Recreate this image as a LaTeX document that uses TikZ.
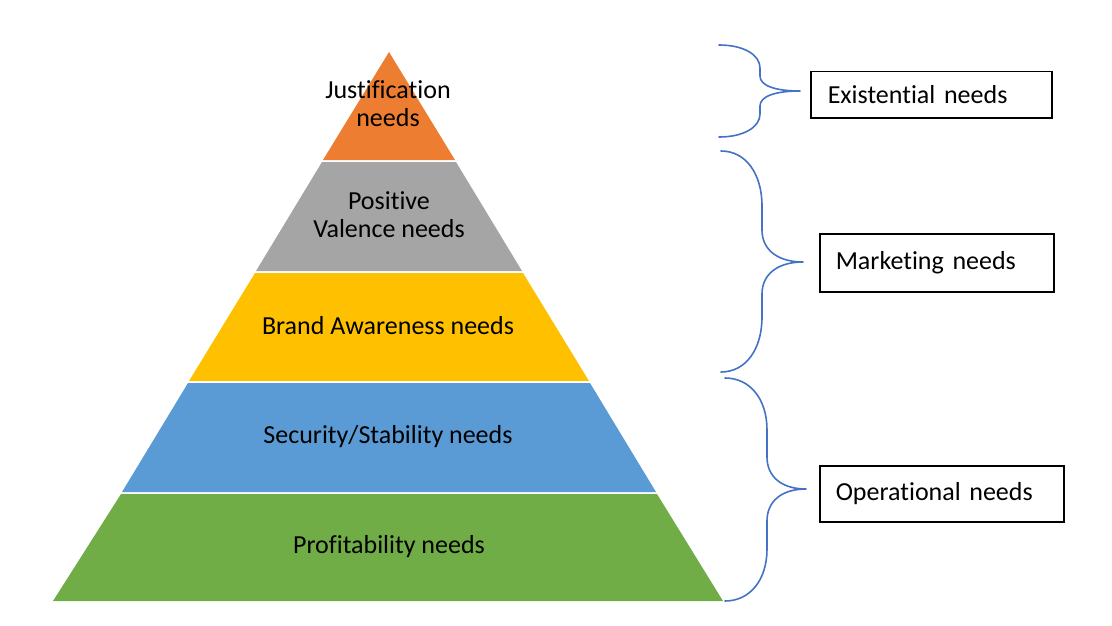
\documentclass[tikz,border=0pt]{standalone}
\usepackage{fontspec}
\setmainfont{Carlito}[Ligatures=CommonOff]
\definecolor{cOrange}{HTML}{ED7D31}
\definecolor{cGray}{HTML}{A5A5A5}
\definecolor{cYellow}{HTML}{FFC000}
\definecolor{cBlue}{HTML}{5B9BD5}
\definecolor{cGreen}{HTML}{70AD47}
\definecolor{cBrace}{HTML}{4472C4}
\begin{document}
\begin{tikzpicture}[x=1pt,y=-1pt,
  layertext/.style={font=\fontsize{26}{28}\selectfont, align=center, inner sep=0pt},
  needbox/.style={draw=black, line width=1.5pt, anchor=north west, align=left,
    font=\fontsize{26}{28}\selectfont, inner xsep=16pt, inner ysep=0pt},
  bracestyle/.style={draw=cBrace, line width=1.6pt, line cap=round, line join=round}]
\useasboundingbox (0,0) rectangle (1112,626);
% pyramid layers
\fill[cOrange] (389,52) -- (455,160) -- (323,160) -- cycle;
\fill[cGray] (322,162) -- (456,162) -- (522,271) -- (256,271) -- cycle;
\fill[cYellow] (255,273) -- (523,273) -- (589,381) -- (189,381) -- cycle;
\fill[cBlue] (188,383) -- (590,383) -- (656,492) -- (122,492) -- cycle;
\fill[cGreen] (121,494) -- (657,494) -- (723,601) -- (53,601) -- cycle;
% layer texts
\node[layertext] (just) at (388,104) {Justification\\needs};
\node[layertext] (pos) at (389,215) {Positive\\Valence needs};
\node[layertext] (brand) at (388,326) {Brand Awareness needs};
\node[layertext] (sec) at (388,437) {Security/Stability needs};
\node[layertext] (prof) at (389,547) {Profitability needs};
% boxes
\node[needbox, text width=241pt-32pt, minimum height=46pt] (exist) at (810,71) {\hspace*{1pt}Existential needs};
\node[needbox, text width=234pt-32pt, minimum height=58pt] (mark) at (819,233) {Marketing needs};
\node[needbox, text width=244pt-32pt, minimum height=56pt] (oper) at (819,465) {Operational needs};
% braces
\coordinate (b1t) at (719,45);
\coordinate (b1p) at (800,91);
\coordinate (b1b) at (719,137);
\coordinate (b2t) at (721,151);
\coordinate (b2p) at (803,262);
\coordinate (b2b) at (721,372);
\coordinate (b3t) at (725,378);
\coordinate (b3p) at (806,489);
\coordinate (b3b) at (725,601);
\draw[bracestyle] (b1t) .. controls (744,45) and (760,55) .. (760,68) -- (760,76)
  .. controls (760,86) and (776,91) .. (b1p)
  .. controls (776,91) and (760,96) .. (760,106) -- (760,114)
  .. controls (760,127) and (744,137) .. (b1b);
\draw[bracestyle] (b2t) .. controls (746,151) and (762,174) .. (762,206) -- (762,230)
  .. controls (762,250) and (778,262) .. (b2p)
  .. controls (778,262) and (762,274) .. (762,294) -- (762,317)
  .. controls (762,349) and (746,372) .. (b2b);
\draw[bracestyle] (b3t) .. controls (750,378) and (767,399) .. (767,430) -- (767,457)
  .. controls (767,477) and (782,489) .. (b3p)
  .. controls (782,489) and (767,501) .. (767,521) -- (767,549)
  .. controls (767,580) and (750,601) .. (b3b);
\end{tikzpicture}
\end{document}
